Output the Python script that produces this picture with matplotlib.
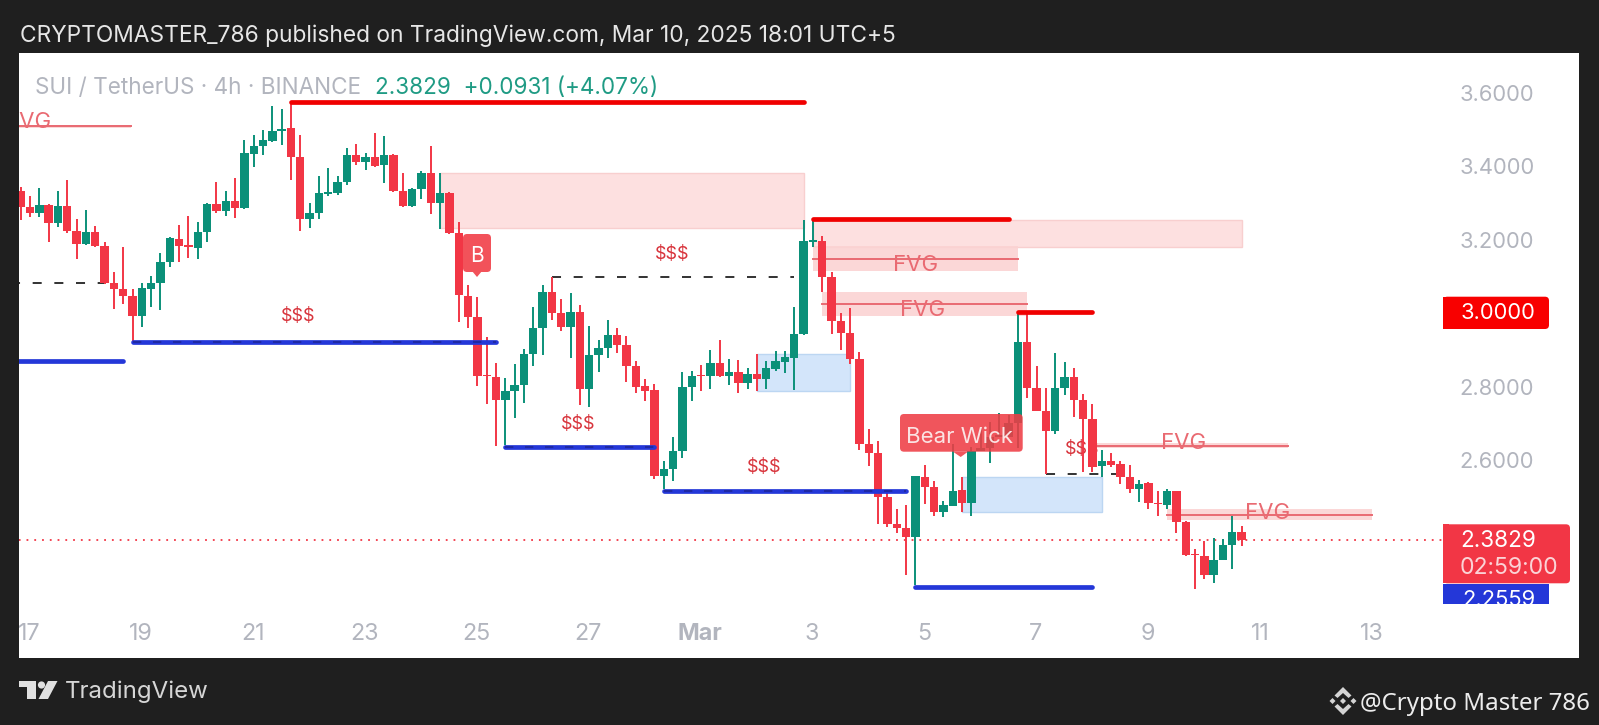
import matplotlib
matplotlib.use("Agg")
import matplotlib.pyplot as plt
from matplotlib.patches import FancyBboxPatch, Polygon, Circle, Rectangle

plt.rcParams['font.family'] = ['Inter', 'DejaVu Sans']

# SUI/USDT 4h candles
opens = [3.333, 3.290, 3.274, 3.295, 3.245, 3.292, 3.225, 3.187, 3.220, 3.184,
         3.083, 3.067, 3.048, 2.993, 3.067, 3.083, 3.140, 3.203, 3.185, 3.177,
         3.220, 3.296, 3.279, 3.305, 3.285, 3.433, 3.455, 3.469, 3.497, 3.503,
         3.426, 3.256, 3.272, 3.324, 3.326, 3.358, 3.430, 3.412, 3.425, 3.402,
         3.431, 3.332, 3.292, 3.339, 3.382, 3.300, 3.326, 3.217, 3.048, 2.991,
         2.832, 2.827, 2.763, 2.787, 2.806, 2.890, 2.959, 3.057, 3.001, 2.963,
         3.004, 2.794, 2.885, 2.905, 2.941, 2.914, 2.856, 2.802, 2.791, 2.557,
         2.575, 2.625, 2.799, 2.833, 2.830, 2.864, 2.829, 2.840, 2.811, 2.835,
         2.820, 2.849, 2.868, 2.879, 2.943, 3.195, 3.197, 3.099, 2.979, 2.947,
         2.876, 2.643, 2.619, 2.501, 2.426, 2.416, 2.390, 2.555, 2.526, 2.459,
         2.476, 2.519, 2.484, 2.626, 2.633, 2.664, 2.664, 2.702, 2.921, 2.796,
         2.735, 2.680, 2.796, 2.826, 2.764, 2.711, 2.584, 2.597, 2.590, 2.553,
         2.523, 2.539, 2.484, 2.478, 2.515, 2.433, 2.345, 2.339, 2.288, 2.328,
         2.368, 2.405]
highs = [3.344, 3.319, 3.340, 3.296, 3.333, 3.362, 3.255, 3.281, 3.237, 3.195,
         3.112, 3.181, 3.065, 3.081, 3.101, 3.163, 3.208, 3.240, 3.265, 3.247,
         3.299, 3.357, 3.333, 3.368, 3.471, 3.485, 3.499, 3.564, 3.555, 3.571,
         3.485, 3.299, 3.372, 3.394, 3.372, 3.449, 3.460, 3.435, 3.489, 3.482,
         3.432, 3.381, 3.342, 3.387, 3.455, 3.381, 3.329, 3.249, 3.076, 3.043,
         2.936, 2.865, 2.823, 2.862, 2.902, 3.016, 3.076, 3.099, 3.040, 3.054,
         3.023, 2.965, 2.926, 2.982, 2.959, 2.938, 2.871, 2.820, 2.807, 2.599,
         2.664, 2.841, 2.843, 2.859, 2.900, 2.927, 2.876, 2.874, 2.850, 2.889,
         2.869, 2.898, 2.898, 3.018, 3.254, 3.252, 3.210, 3.113, 3.000, 3.015,
         2.894, 2.684, 2.653, 2.517, 2.466, 2.477, 2.557, 2.586, 2.543, 2.490,
         2.644, 2.553, 2.637, 2.691, 2.705, 2.728, 2.723, 3.000, 3.000, 2.856,
         2.796, 2.891, 2.867, 2.852, 2.779, 2.752, 2.628, 2.621, 2.599, 2.587,
         2.546, 2.542, 2.517, 2.523, 2.516, 2.435, 2.359, 2.381, 2.388, 2.385,
         2.449, 2.421]
lows = [3.254, 3.261, 3.261, 3.195, 3.235, 3.219, 3.147, 3.186, 3.179, 3.080,
        3.011, 3.025, 2.923, 2.962, 3.016, 3.009, 3.125, 3.138, 3.149, 3.147,
        3.194, 3.272, 3.265, 3.260, 3.283, 3.397, 3.431, 3.467, 3.458, 3.362,
        3.225, 3.231, 3.256, 3.319, 3.323, 3.349, 3.403, 3.391, 3.397, 3.355,
        3.331, 3.290, 3.290, 3.310, 3.270, 3.229, 3.216, 2.977, 2.961, 2.802,
        2.752, 2.640, 2.641, 2.714, 2.755, 2.857, 2.886, 2.982, 2.952, 2.879,
        2.750, 2.746, 2.841, 2.879, 2.891, 2.812, 2.782, 2.760, 2.548, 2.523,
        2.543, 2.605, 2.761, 2.789, 2.793, 2.827, 2.804, 2.784, 2.793, 2.789,
        2.793, 2.844, 2.838, 2.791, 2.942, 3.181, 3.059, 2.943, 2.900, 2.862,
        2.628, 2.585, 2.426, 2.419, 2.403, 2.287, 2.260, 2.481, 2.448, 2.445,
        2.475, 2.459, 2.448, 2.625, 2.592, 2.662, 2.662, 2.632, 2.768, 2.735,
        2.562, 2.671, 2.777, 2.717, 2.569, 2.569, 2.555, 2.581, 2.535, 2.512,
        2.487, 2.468, 2.448, 2.468, 2.403, 2.339, 2.250, 2.276, 2.265, 2.328,
        2.303, 2.367]
closes = [3.290, 3.272, 3.294, 3.245, 3.292, 3.225, 3.187, 3.220, 3.184, 3.083,
          3.067, 3.048, 2.993, 3.068, 3.083, 3.140, 3.204, 3.183, 3.181, 3.220,
          3.297, 3.278, 3.305, 3.287, 3.435, 3.455, 3.470, 3.497, 3.502, 3.426,
          3.256, 3.274, 3.326, 3.329, 3.358, 3.430, 3.411, 3.426, 3.401, 3.430,
          3.332, 3.292, 3.339, 3.382, 3.300, 3.326, 3.217, 3.049, 2.991, 2.829,
          2.828, 2.764, 2.787, 2.806, 2.890, 2.959, 3.057, 3.001, 2.963, 3.004,
          2.794, 2.885, 2.905, 2.941, 2.913, 2.856, 2.800, 2.788, 2.557, 2.575,
          2.625, 2.799, 2.830, 2.829, 2.865, 2.828, 2.841, 2.811, 2.835, 2.820,
          2.850, 2.869, 2.880, 2.943, 3.197, 3.198, 3.099, 2.979, 2.947, 2.876,
          2.643, 2.619, 2.501, 2.426, 2.416, 2.390, 2.557, 2.526, 2.459, 2.477,
          2.517, 2.484, 2.626, 2.632, 2.662, 2.669, 2.702, 2.921, 2.796, 2.735,
          2.680, 2.796, 2.826, 2.764, 2.711, 2.582, 2.597, 2.587, 2.553, 2.523,
          2.535, 2.483, 2.482, 2.516, 2.432, 2.342, 2.342, 2.288, 2.328, 2.368,
          2.405, 2.383]

# horizontal levels: (first candle, last candle, price)
red_levels = [(29, 84, 3.576), (85, 106, 3.255), (107, 115, 3.003)]
blue_levels = [(-2, 11, 2.870), (12, 51, 2.923), (52, 68, 2.635), (69, 95, 2.517), (96, 115, 2.256)]
blue_dashed = [(12, 51, 2.923), (52, 68, 2.635), (69, 95, 2.517)]
black_dashed = [(-1, 9, 3.083), (57, 83, 3.098), (110, 118, 2.562)]

# zones: (first candle, last candle, low, high)
supply_zones = [(45, 84, 3.231, 3.381), (85, 131, 3.181, 3.254)]
demand_zones = [(79, 89, 2.789, 2.888), (101, 116, 2.459, 2.553)]
# FVG: (first, last, low, high, line price, label x, label price)
fvg_zones = [(-2, 11.8, 3.503, 3.513, 3.509, 0.8, 3.520),
             (85, 107, 3.116, 3.184, 3.147, 96, 3.131),
             (86, 108, 2.993, 3.059, 3.026, 96.8, 3.009),
             (115.4, 136, 2.634, 2.648, 2.638, 124.8, 2.646),
             (123, 145, 2.437, 2.466, 2.451, 133.8, 2.456)]

dollar_x = [29.8, 69.9, 59.8, 79.8, 113.9]
dollar_y = [2.990, 3.159, 2.696, 2.581, 2.629]

last_price = 2.3829
ytick_values = [2.6, 2.8, 3.2, 3.4, 3.6]
ytick_labels = ['2.6000', '2.8000', '3.2000', '3.4000', '3.6000']
xtick_candles = [0.9, 12.9, 24.9, 36.9, 48.9, 60.9, 72.9, 84.9, 96.9, 108.9, 120.9, 133.0, 145.0]
xtick_labels = ['17', '19', '21', '23', '25', '27', 'Mar', '3', '5', '7', '9', '11', '13']

RED = '#f23645'
GREEN = '#0b9079'
GRAY = '#b2b5be'
DARK = '#1f1f1f'
FVG_RED = '#e96a72'

fig = plt.figure(figsize=(15.99, 7.25), dpi=100, facecolor=DARK)
W, H = 1599.0, 725.0
ax = fig.add_axes([19.3 / W, (H - 657.5) / H, (1579 - 19.3) / W, (657.5 - 52.5) / H])
ax.set_xlim(-0.15, 167.2)
ax.set_ylim(2.0632, 3.7094)
ax.set_facecolor('white')
for s in ax.spines.values():
    s.set_visible(False)

# zones go under the candles
for x0, x1, lo, hi in supply_zones:
    ax.add_patch(Rectangle((x0, lo), x1 - x0, hi - lo, fc='#fde0e0', ec='#f8cfcf', lw=1, zorder=1))
for x0, x1, lo, hi in demand_zones:
    ax.add_patch(Rectangle((x0, lo), x1 - x0, hi - lo, fc='#d3e5fa', ec='#bcd6f2', lw=1, zorder=1))
for x0, x1, lo, hi, line_y, tx, ty in fvg_zones:
    ax.add_patch(Rectangle((x0, lo), x1 - x0, hi - lo, fc='#fbd3d3', ec='none', alpha=0.9, zorder=1.5))
    ax.plot([x0, x1], [line_y, line_y], color=FVG_RED, lw=1.4, zorder=1.6)
    t = ax.text(tx, ty, 'FVG', color=FVG_RED, fontsize=16, ha='center', va='center', zorder=4)
    t.set_clip_on(True)

for x0, x1, y in black_dashed:
    ax.plot([x0, x1], [y, y], color='#222222', lw=1.3, dashes=(5, 7), zorder=1.8)
for x, y in zip(dollar_x, dollar_y):
    ax.text(x, y, '$$$', color='#d8343c', fontsize=13, ha='center', va='center', zorder=1.9)

# dotted last price line
ax.plot([-1, 153], [last_price, last_price], color=RED, lw=1.3, dashes=(1, 3.3), zorder=1.7)

# candles
for i in range(len(opens)):
    color = GREEN if closes[i] >= opens[i] else RED
    ax.vlines(i, lows[i], highs[i], color=color, lw=1.4, zorder=2)
    ax.bar(i, abs(closes[i] - opens[i]), bottom=min(opens[i], closes[i]), width=0.9,
           color=color, linewidth=0, zorder=2.1)

for x0, x1, y in red_levels:
    ax.plot([x0, x1], [y, y], color='#f00000', lw=3.4, solid_capstyle='round', zorder=3)
for x0, x1, y in blue_levels:
    ax.plot([x0, x1], [y, y], color='#2437d8', lw=3.4, solid_capstyle='round', zorder=3)
for x0, x1, y in blue_dashed:
    ax.plot([x0, x1], [y, y], color='#1a2080', lw=1.2, dashes=(5, 7), alpha=0.7, zorder=3.1)

ax.set_yticks(ytick_values)
ax.set_yticklabels(ytick_labels)
ax.yaxis.tick_right()
ax.tick_params(axis='y', length=0, pad=-86, labelsize=15.8, labelcolor=GRAY)
ax.set_xticks(xtick_candles)
ax.set_xticklabels(xtick_labels)
ax.tick_params(axis='x', length=0, pad=-25, labelsize=16.8, labelcolor=GRAY)
for lab in ax.get_xticklabels():
    lab.set_clip_on(True)
    lab.set_clip_box(ax.bbox)
    if lab.get_text() == 'Mar':
        lab.set_fontweight('bold')

# everything else is chart furniture, laid out in pixels of the picture
ov = fig.add_axes([0, 0, 1, 1], facecolor='none')
ov.set_xlim(0, W)
ov.set_ylim(H, 0)
ov.axis('off')

ov.text(20, 35.5, 'CRYPTOMASTER_786 published on TradingView.com, Mar 10, 2025 18:01 UTC+5',
        color='#e6e6e6', fontsize=16.4, va='center', ha='left')
ov.text(35, 88, 'SUI / TetherUS \u00b7 4h \u00b7 BINANCE', color=GRAY, fontsize=16.2, va='center', ha='left')
ov.text(375, 88, '2.3829  +0.0931 (+4.07%)', color='#1f9b84', fontsize=16.2, va='center', ha='left')


def tag(x0, y0, x1, y1, color, round_px=4, alpha=1.0, z=5):
    p = FancyBboxPatch((x0, y0), x1 - x0, y1 - y0, boxstyle='round,pad=0,rounding_size=%g' % round_px,
                       fc=color, ec='none', alpha=alpha, zorder=z)
    ov.add_patch(p)
    return p


# "B" and "Bear Wick" signal labels
tag(463, 234, 491, 272, '#f2525a')
ov.add_patch(Polygon([(472, 271), (482, 271), (477, 277)], fc='#f2525a', ec='none', zorder=5))
ov.text(476.5, 256, 'B', color='white', fontsize=15, ha='center', va='center', zorder=6)

tag(900, 414, 1022.7, 451.7, '#ee3d45', alpha=0.88)
ov.add_patch(Polygon([(953, 451.7), (968, 451.7), (960.7, 457)], fc='#ee3d45', ec='none', alpha=0.88, zorder=5))
ov.text(960, 437, 'Bear Wick', color='#fbe3e3', fontsize=16, ha='center', va='center', zorder=6)

# price tags on the right
tag(1443.3, 296.7, 1549, 329, '#f80000')
ov.add_patch(Rectangle((1443.3, 296.7), 6, 32.3, fc='#f80000', ec='none', zorder=5))
ov.text(1498.5, 313, '3.0000', color='white', fontsize=15.8, ha='center', va='center', zorder=6)

tag(1443.3, 524.3, 1570, 583.3, RED)
ov.add_patch(Rectangle((1443.3, 524.3), 6, 59, fc=RED, ec='none', zorder=5))
ov.text(1498, 541, '2.3829', color='white', fontsize=16.2, ha='center', va='center', zorder=6)
ov.text(1460, 567.5, '02:59:00', color='#fbd3d6', fontsize=16.6, ha='left', va='center', zorder=6)

blue_tag = Rectangle((1443.3, 584), 105.7, 20, fc='#2437d8', ec='none', zorder=5)
ov.add_patch(blue_tag)
t = ov.text(1498.5, 600.5, '2.2559', color='white', fontsize=15.8, ha='center', va='center', zorder=6)
t.set_clip_path(blue_tag)

# TradingView logo and name
ov.add_patch(Polygon([(19, 681), (36, 681), (36, 699), (27, 699), (27, 687), (19, 687)], fc='#e0e0e0', ec='none'))
ov.add_patch(Circle((41.5, 685), 3.6, fc='#e0e0e0', ec='none'))
ov.add_patch(Polygon([(48, 681), (57.5, 681), (48, 699), (38.5, 699)], fc='#e0e0e0', ec='none'))
ov.text(64.5, 692, 'TradingView', color='#d6d6d6', fontsize=17.3, ha='left', va='center')

# Binance mark and watermark
cx, cy = 1343, 701
ICON = '#d4d4d4'
for pts in ([(0, -14), (8.5, -5.5), (5.5, -3), (0, -8), (-5.5, -3), (-8.5, -5.5)],
            [(0, 14), (8.5, 5.5), (5.5, 3), (0, 8), (-5.5, 3), (-8.5, 5.5)],
            [(0, -3), (3, 0), (0, 3), (-3, 0)],
            [(-13.5, 0), (-10.5, -3), (-7.5, 0), (-10.5, 3)],
            [(13.5, 0), (10.5, -3), (7.5, 0), (10.5, 3)]):
    ov.add_patch(Polygon([(cx + a, cy + b) for a, b in pts], fc=ICON, ec='none'))
ov.text(1360.5, 703.5, '@Crypto Master 786', color='#ececec', fontsize=17.3, ha='left', va='center',
        family=['Noto Sans', 'DejaVu Sans'])

fig.savefig('out.png', dpi=100, facecolor=DARK)
